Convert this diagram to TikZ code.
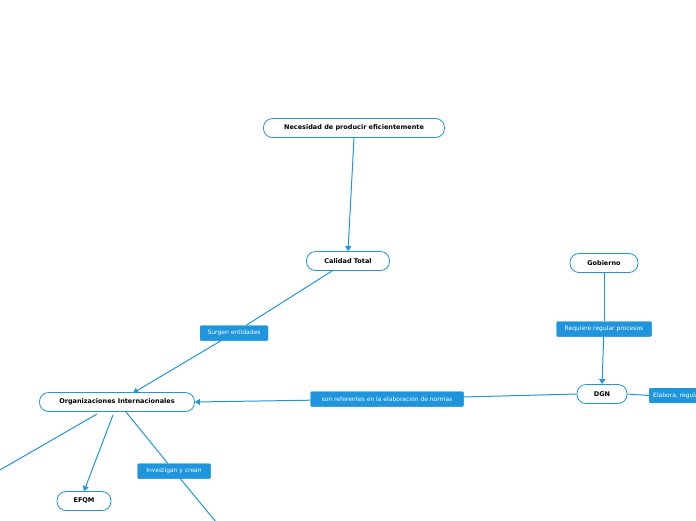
\documentclass[tikz,border=0pt]{standalone}
\usepackage{fontspec}
\setmainfont{DejaVu Sans}
\usetikzlibrary{arrows.meta}
\definecolor{mblue}{HTML}{1E95DD}
\begin{document}
\begin{tikzpicture}[x=1pt,y=-1pt,
  topic/.style={draw=mblue,line width=0.8pt,fill=white,rounded corners=9pt,minimum height=19pt,inner sep=0pt,font=\bfseries\fontsize{6.5}{7}\selectfont},
  lbl/.style={fill=mblue,text=white,rounded corners=1pt,minimum height=15pt,inner sep=0pt,font=\fontsize{6}{7}\selectfont},
  conn/.style={draw=mblue,line width=1pt},
  arr/.style={conn,-{Triangle[length=5pt,width=6pt]}}]
\useasboundingbox (0,0) rectangle (696,520);
\clip (0,0) rectangle (696,520);
\node[topic,minimum width=181pt] (nec) at (354,128) {Necesidad de producir eficientemente};
\node[topic,minimum width=83pt] (cal) at (348,261) {Calidad Total};
\node[topic,minimum width=68pt] (gob) at (604,263) {Gobierno};
\node[topic,minimum width=50pt] (dgn) at (602,394) {DGN};
\node[topic,minimum width=155pt] (org) at (117,402) {Organizaciones Internacionales};
\node[topic,minimum width=54pt] (efqm) at (84,501) {EFQM};
\node[lbl,minimum width=68pt] (l1) at (234,333) {Surgen entidades};
\node[lbl,minimum width=95pt] (l2) at (604,329) {Requiere regular procesos};
\node[lbl,minimum width=153pt] (l3) at (387,399) {son referentes en la elaboración de normas};
\node[lbl,minimum width=73pt] (l4) at (174,471) {Investigan y crean};
\node[lbl,inner xsep=4pt,anchor=west] (l5) at (649,395.5) {Elabora, regula normas};
\coordinate (e1) at (0,470);
\coordinate (e2) at (216,522);
\draw[arr] (nec.south) -- (cal.north);
\draw[conn] (332,271) -- (l1);
\draw[arr] (l1) -- (133,393);
\draw[conn] (gob.south) -- (l2);
\draw[arr] (l2) -- (dgn.north);
\draw[conn] (dgn.west) -- (l3);
\draw[arr] (l3) -- (org.east);
\draw[conn] (dgn.east) -- (l5.west);
\draw[conn] (97,414) -- (e1);
\draw[arr] (113,415) -- (efqm.north);
\draw[conn] (126,412) -- (l4);
\draw[conn] (l4) -- (e2);
\node[lbl,minimum width=73pt] at (l4) {Investigan y crean};
\node[lbl,minimum width=68pt] at (l1) {Surgen entidades};
\node[lbl,minimum width=95pt] at (l2) {Requiere regular procesos};
\node[lbl,minimum width=153pt] at (l3) {son referentes en la elaboración de normas};
\end{tikzpicture}
\end{document}
